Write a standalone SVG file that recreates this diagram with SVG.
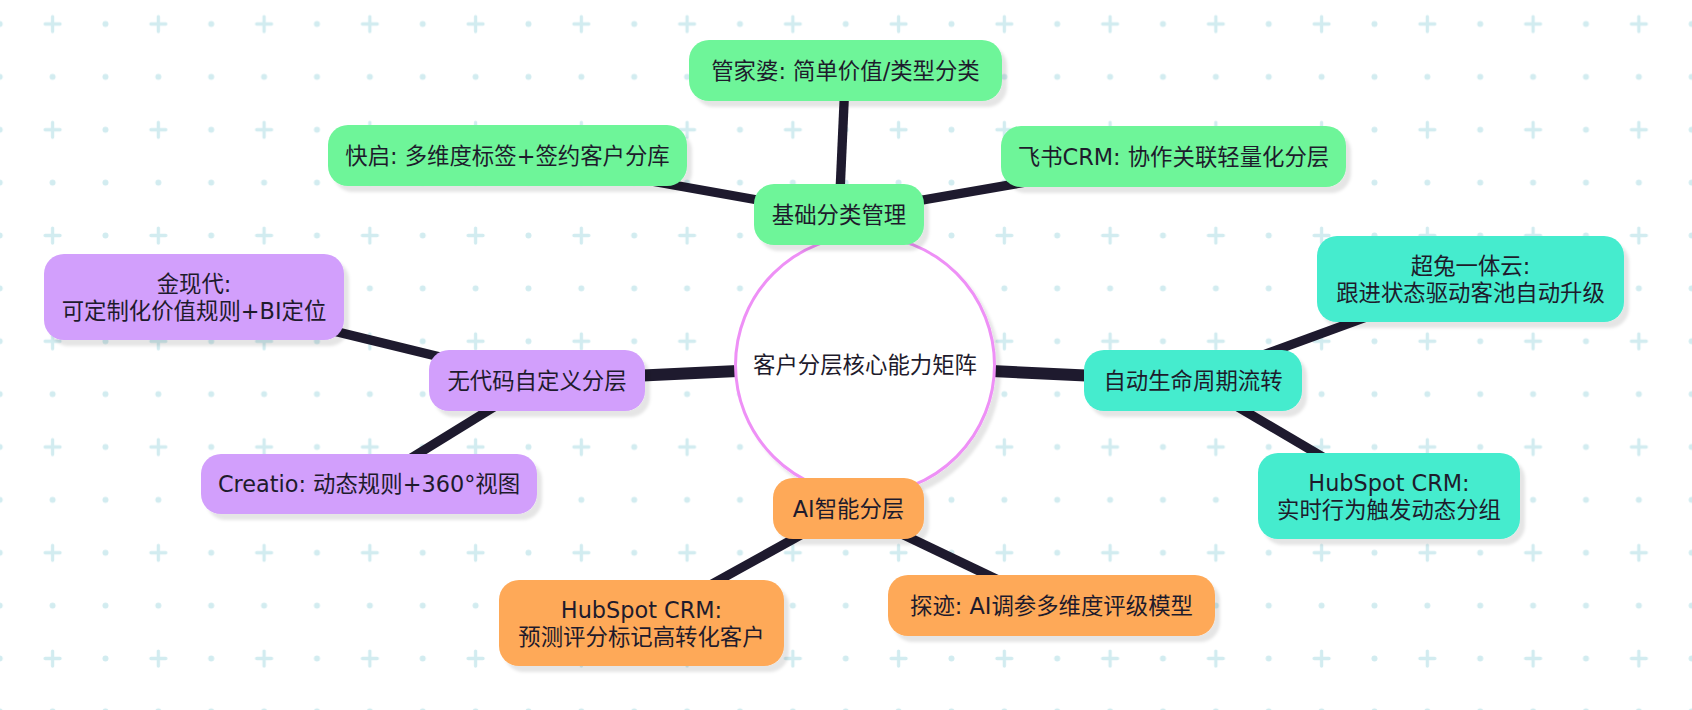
<svg xmlns="http://www.w3.org/2000/svg" width="1692" height="710" viewBox="0 0 1692 710">
<defs>
<pattern id="grid" patternUnits="userSpaceOnUse" x="26.16" y="-2.44" width="105.75" height="105.75">
<path d="M26.44 19V33.9M19 26.44H33.9" stroke="#d2ecf0" stroke-width="3.3" stroke-linecap="round" fill="none"/>
<circle cx="79.3" cy="26.44" r="3" fill="#d2ecf0"/>
<circle cx="26.44" cy="79.3" r="3" fill="#d2ecf0"/>
<circle cx="79.3" cy="79.3" r="3" fill="#d2ecf0"/>
</pattern>
<filter id="sh" x="-10%" y="-10%" width="130%" height="140%">
<feDropShadow dx="5" dy="6" stdDeviation="1.5" flood-color="#000" flood-opacity="0.1"/>
</filter>
</defs>
<style>
.lbl{font-family:"DejaVu Sans","Noto Sans CJK SC",sans-serif;font-size:22.4px;fill:#1e1b2c;text-anchor:middle}
.box{filter:url(#sh)}
.g{fill:#6ef599}
.p{fill:#d29ffc}
.t{fill:#44ecce}
.o{fill:#fea958}
.e0{stroke:#1e1a2e;stroke-width:12;fill:none}
.e1{stroke:#1e1a2e;stroke-width:9.3;fill:none}
</style>
<rect width="1692" height="710" fill="#ffffff"/>
<rect width="1692" height="710" fill="url(#grid)"/>
<g id="connectors">
<line class="e0" x1="865" y1="365" x2="839" y2="214.5"/>
<line class="e0" x1="865" y1="365" x2="537" y2="380.5"/>
<line class="e0" x1="865" y1="365" x2="848.5" y2="508.5"/>
<line class="e0" x1="865" y1="365" x2="1193" y2="380.5"/>
<line class="e1" x1="839" y1="214.5" x2="845.5" y2="70.5"/>
<line class="e1" x1="839" y1="214.5" x2="507.5" y2="155.5"/>
<line class="e1" x1="839" y1="214.5" x2="1173.5" y2="156.5"/>
<line class="e1" x1="537" y1="380.5" x2="194" y2="297"/>
<line class="e1" x1="537" y1="380.5" x2="369" y2="484"/>
<line class="e1" x1="848.5" y1="508.5" x2="641.5" y2="623"/>
<line class="e1" x1="848.5" y1="508.5" x2="1051.5" y2="605.5"/>
<line class="e1" x1="1193" y1="380.5" x2="1470.5" y2="279"/>
<line class="e1" x1="1193" y1="380.5" x2="1389" y2="496"/>
</g>
<g id="root">
<circle cx="865" cy="365" r="129.5" fill="#ffffff" stroke="#ee90f6" stroke-width="3" class="box"/>
<text class="lbl" x="865" y="373">客户分层核心能力矩阵</text>
</g>
<g id="n-basic">
<rect class="box g" x="754" y="184" width="170" height="61" rx="20"/>
<text class="lbl" x="839" y="222.5">基础分类管理</text>
</g>
<g id="n-gjp">
<rect class="box g" x="689" y="40" width="313" height="61" rx="20"/>
<text class="lbl" x="845.5" y="78.5">管家婆: 简单价值/类型分类</text>
</g>
<g id="n-kq">
<rect class="box g" x="328" y="125" width="359" height="61" rx="20"/>
<text class="lbl" x="507.5" y="163.5">快启: 多维度标签+签约客户分库</text>
</g>
<g id="n-fs">
<rect class="box g" x="1001" y="126" width="345" height="61" rx="20"/>
<text class="lbl" x="1173.5" y="164.5">飞书CRM: 协作关联轻量化分层</text>
</g>
<g id="n-nocode">
<rect class="box p" x="429" y="350" width="216" height="61" rx="20"/>
<text class="lbl" x="537" y="388.5">无代码自定义分层</text>
</g>
<g id="n-jxd">
<rect class="box p" x="44" y="254" width="300" height="86" rx="20"/>
<text class="lbl" x="194" y="292">金现代:</text>
<text class="lbl" x="194" y="318.5">可定制化价值规则+BI定位</text>
</g>
<g id="n-creatio">
<rect class="box p" x="201" y="454" width="336" height="60" rx="20"/>
<text class="lbl" x="369" y="492">Creatio: 动态规则+360°视图</text>
</g>
<g id="n-ai">
<rect class="box o" x="773" y="478" width="151" height="61" rx="20"/>
<text class="lbl" x="848.5" y="516.5">AI智能分层</text>
</g>
<g id="n-hs1">
<rect class="box o" x="499" y="580" width="285" height="86" rx="20"/>
<text class="lbl" x="641.5" y="618">HubSpot CRM:</text>
<text class="lbl" x="641.5" y="644.5">预测评分标记高转化客户</text>
</g>
<g id="n-tj">
<rect class="box o" x="888" y="575" width="327" height="61" rx="20"/>
<text class="lbl" x="1051.5" y="613.5">探迹: AI调参多维度评级模型</text>
</g>
<g id="n-auto">
<rect class="box t" x="1084" y="350" width="218" height="61" rx="20"/>
<text class="lbl" x="1193" y="388.5">自动生命周期流转</text>
</g>
<g id="n-ct">
<rect class="box t" x="1317" y="236" width="307" height="86" rx="20"/>
<text class="lbl" x="1470.5" y="274">超兔一体云:</text>
<text class="lbl" x="1470.5" y="300.5">跟进状态驱动客池自动升级</text>
</g>
<g id="n-hs2">
<rect class="box t" x="1258" y="453" width="262" height="86" rx="20"/>
<text class="lbl" x="1389" y="491">HubSpot CRM:</text>
<text class="lbl" x="1389" y="517.5">实时行为触发动态分组</text>
</g>
</svg>
